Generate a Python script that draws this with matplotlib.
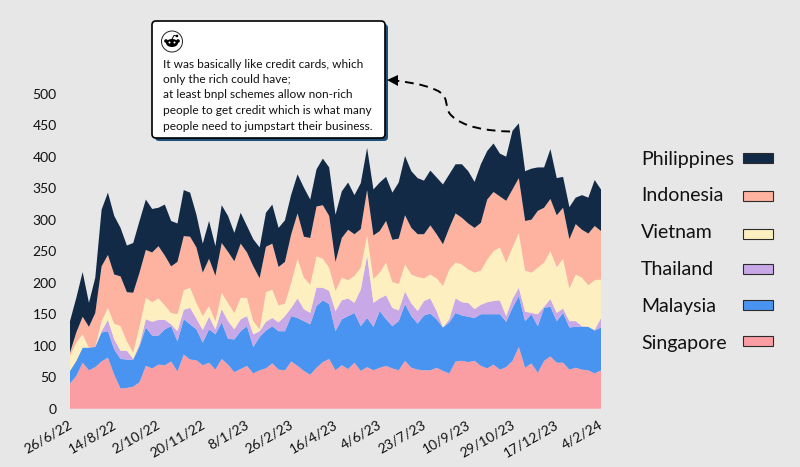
import numpy as np
import matplotlib
matplotlib.use('Agg')
import matplotlib.pyplot as plt
from matplotlib.patches import Rectangle, FancyBboxPatch, Circle, Ellipse, Polygon, PathPatch
from matplotlib.path import Path
from matplotlib.transforms import ScaledTranslation

plt.rcParams['font.family'] = ['Lato', 'DejaVu Sans']

# Upper edge of each stacked band (weekly)
singapore_top = [40, 52, 73, 61, 66, 75, 81, 54, 32, 33, 35, 42, 68, 64, 70, 69, 75, 59, 86, 78, 77,
                 69, 73, 62, 79, 70, 58, 63, 68, 56, 61, 64, 72, 62, 61, 75, 68, 60, 54, 65, 74, 79,
                 61, 69, 63, 73, 60, 66, 61, 65, 68, 64, 61, 76, 65, 62, 61, 61, 65, 60, 56, 75, 76,
                 74, 76, 68, 64, 70, 62, 66, 76, 98, 65, 72, 57, 76, 83, 73, 73, 62, 65, 62, 61, 56, 61]
malaysia_top = [60, 76, 97, 97, 98, 121, 123, 94, 79, 78, 78, 99, 129, 116, 116, 126, 131, 107, 142, 134, 126,
                105, 126, 118, 137, 111, 110, 123, 131, 98, 114, 124, 131, 123, 123, 147, 144, 139, 134, 163, 172, 166,
                123, 142, 147, 152, 131, 144, 130, 155, 142, 131, 139, 166, 147, 135, 148, 151, 142, 129, 137, 152, 148,
                146, 144, 150, 150, 150, 150, 138, 160, 179, 139, 150, 131, 160, 162, 139, 152, 129, 130, 130, 130, 124, 129]
thailand_top = [60, 76, 97, 97, 98, 123, 141, 110, 92, 92, 79, 102, 142, 138, 141, 141, 134, 123, 157, 160, 143,
                125, 146, 126, 158, 139, 126, 142, 147, 118, 123, 138, 144, 137, 147, 160, 175, 158, 152, 192, 192, 187,
                155, 172, 175, 168, 189, 243, 168, 175, 180, 160, 156, 186, 167, 155, 171, 175, 155, 129, 142, 175, 169,
                168, 158, 165, 169, 171, 172, 147, 174, 192, 154, 152, 150, 162, 174, 152, 159, 139, 139, 131, 130, 125, 144]
vietnam_top = [84, 105, 118, 97, 98, 139, 160, 135, 131, 107, 89, 131, 176, 169, 175, 164, 152, 150, 188, 192, 168,
               147, 163, 139, 184, 168, 152, 176, 176, 139, 126, 185, 189, 164, 167, 200, 238, 208, 197, 242, 238, 224,
               187, 208, 204, 211, 224, 275, 206, 216, 232, 201, 198, 229, 213, 209, 207, 213, 207, 195, 221, 232, 229,
               221, 216, 219, 237, 250, 256, 232, 256, 279, 219, 216, 224, 232, 250, 225, 238, 191, 213, 208, 196, 204, 205]
indonesia_top = [89, 121, 146, 130, 152, 226, 244, 213, 210, 185, 184, 216, 252, 248, 258, 243, 226, 233, 274, 273, 256,
                 216, 238, 211, 263, 249, 234, 262, 248, 226, 207, 257, 262, 225, 233, 277, 310, 273, 271, 321, 323, 306,
                 233, 271, 284, 277, 285, 347, 275, 282, 298, 268, 270, 307, 287, 277, 277, 291, 277, 261, 287, 310, 303,
                 294, 287, 295, 332, 344, 337, 330, 348, 366, 298, 300, 314, 319, 333, 307, 319, 269, 293, 284, 278, 290, 282]
philippines_top = [139, 176, 217, 168, 208, 316, 343, 306, 287, 259, 263, 298, 332, 317, 319, 324, 298, 294, 347, 343, 308,
                   262, 298, 258, 323, 306, 279, 311, 290, 269, 256, 311, 324, 287, 299, 340, 372, 351, 332, 380, 397, 383,
                   308, 345, 359, 339, 358, 414, 348, 359, 368, 343, 359, 401, 377, 366, 362, 378, 367, 356, 372, 388, 388,
                   377, 360, 388, 409, 421, 405, 400, 441, 453, 377, 381, 383, 383, 412, 366, 368, 320, 335, 339, 335, 363, 348]

countries = ['Singapore', 'Malaysia', 'Thailand', 'Vietnam', 'Indonesia', 'Philippines']
colors = ['#fb9ea3', '#4a94f1', '#c9a8e8', '#fdefbf', '#fdb39f', '#132a46']
date_labels = ['26/6/22', '14/8/22', '2/10/22', '20/11/22', '8/1/23', '26/2/23', '16/4/23',
               '4/6/23', '23/7/23', '10/9/23', '29/10/23', '17/12/23', '4/2/24']
y_ticks = [0, 50, 100, 150, 200, 250, 300, 350, 400, 450, 500]

note = ['It was basically like credit cards, which',
        'only the rich could have;',
        'at least bnpl schemes allow non-rich',
        'people to get credit which is what many',
        'people need to jumpstart their business.']

tops = np.array([singapore_top, malaysia_top, thailand_top, vietnam_top, indonesia_top, philippines_top])
series = np.diff(tops, axis=0, prepend=0)
weeks = np.arange(tops.shape[1])

W, H = 800, 467
bg = '#e7e7e7'
fig = plt.figure(figsize=(W / 100, H / 100), dpi=100, facecolor=bg)

# plot area, 70..601 px across and 93.7..408.7 px down
ax = fig.add_axes([70 / W, 1 - 408.7 / H, 531 / W, 315 / H], facecolor=bg)
ax.stackplot(weeks, series, colors=colors, linewidth=0)
ax.set_xlim(0, 84)
ax.set_ylim(0, 500)
for s in ax.spines.values():
    s.set_visible(False)
ax.set_yticks(y_ticks)
ax.set_xticks(np.arange(0, 85, 7))
ax.set_xticklabels(date_labels, rotation=30, ha='right', rotation_mode='anchor')
ax.tick_params(length=0, labelsize=10, colors='#111111')
ax.tick_params(axis='y', pad=9.5)
ax.tick_params(axis='x', pad=7)
shift = ScaledTranslation(-1.5 / 72, 0, fig.dpi_scale_trans)
for lab in ax.get_xticklabels():
    lab.set_transform(lab.get_transform() + shift)

# overlay in pixel coordinates for the callout and legend
ov = fig.add_axes([0, 0, 1, 1], facecolor='none')
ov.set_xlim(0, W)
ov.set_ylim(H, 0)
ov.axis('off')

ov.add_patch(FancyBboxPatch((155, 24), 233, 117, boxstyle='round,pad=0,rounding_size=4',
                            fc='#1f4e79', ec='none'))
ov.add_patch(FancyBboxPatch((152, 21), 233, 117, boxstyle='round,pad=0,rounding_size=4',
                            fc='white', ec='black', lw=1.2))
for i, line in enumerate(note):
    ov.text(163, 64 + i * 15.5, line, fontsize=8.6, color='#111111', va='center', ha='left')

# reddit icon
ov.add_patch(Circle((172, 41.5), 10.5, fc='white', ec='#222222', lw=0.7))
ov.add_patch(Ellipse((172, 43), 12, 8, fc='black', ec='none'))
ov.add_patch(Circle((166, 41), 1.8, fc='black', ec='none'))
ov.add_patch(Circle((178, 41), 1.8, fc='black', ec='none'))
ov.add_patch(Circle((177, 36), 1.3, fc='black', ec='none'))
ov.plot([172, 174, 177], [39, 35.5, 36], color='black', lw=0.7)
ov.add_patch(Circle((169.5, 42.5), 1.0, fc='white', ec='none'))
ov.add_patch(Circle((174.5, 42.5), 1.0, fc='white', ec='none'))

# dashed arrow from the peak back to the box
verts = [(510, 131.5), (490, 131), (462, 128), (450, 114), (444, 106), (450, 96), (436, 90), (420, 83), (405, 82), (395, 80.5)]
codes = [Path.MOVETO] + [Path.CURVE4] * 9
ov.add_patch(PathPatch(Path(verts, codes), fc='none', ec='black', lw=1.4, linestyle=(0, (4.5, 3))))
ov.add_patch(Polygon([(387, 80), (398, 75), (398, 86)], fc='black', ec='none'))

# legend
text_y = [343.5, 306.5, 269.5, 232.5, 195.5, 159.5]
box_y = [341, 305, 269, 234, 196, 158]
for name, col, ty, by in zip(countries, colors, text_y, box_y):
    ov.text(641, ty, name, fontsize=14, color='#111111', va='center', ha='left')
    ov.add_patch(Rectangle((743, by - 5), 30, 10, fc=col, ec='#2b2b2b', lw=0.8))

fig.savefig('out.png', dpi=100, facecolor=bg)
